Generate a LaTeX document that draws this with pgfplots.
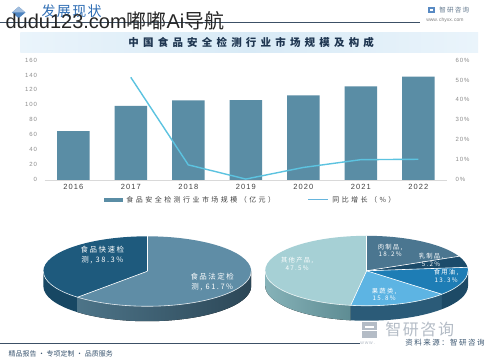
\documentclass[border=0pt]{standalone}
\usepackage{pgfplots}
\pgfplotsset{compat=1.18}
\usepackage{fontspec}
\setmainfont{Liberation Sans}
\newfontfamily\cjk{Noto Sans CJK SC}
\newfontfamily\cjkls[LetterSpace=35]{Noto Sans CJK SC}
\newfontfamily\cjklsb[LetterSpace=40]{Noto Sans CJK SC}
\newfontfamily\cjkpie[LetterSpace=20]{Noto Sans CJK SC}
\newfontfamily\cjkhdr[LetterSpace=10]{Noto Sans CJK SC}
\newfontfamily\numls[LetterSpace=15]{Liberation Sans}
\definecolor{barblue}{HTML}{5A8DA5}
\definecolor{linecyan}{HTML}{5CC3E0}
\definecolor{legline}{HTML}{66B5DD}
\definecolor{ticky}{HTML}{8C8C8C}
\definecolor{txtdark}{HTML}{404040}
\definecolor{hdrblue}{HTML}{2E6DB4}
\definecolor{titlebg}{HTML}{D8EAF6}
\definecolor{titlebgl}{HTML}{EAF4FB}
\definecolor{titletxt}{HTML}{1E3550}
\definecolor{rulec}{HTML}{3C5066}
\definecolor{foottxt}{HTML}{3A5570}
\definecolor{logogray}{HTML}{B4BCC6}
% left pie
\definecolor{kuaiT}{HTML}{1E5A7D}
\definecolor{kuaiS}{HTML}{174763}
\definecolor{fadingT}{HTML}{5F8DA6}
\definecolor{fadingSa}{HTML}{4D7488}
\definecolor{fadingSb}{HTML}{2C4757}
% right pie
\definecolor{qitaT}{HTML}{A6D0D5}
\definecolor{qitaSa}{HTML}{86B2B8}
\definecolor{qitaSb}{HTML}{5E8C93}
\definecolor{rouT}{HTML}{4B7690}
\definecolor{ruT}{HTML}{1B4B6A}
\definecolor{youT}{HTML}{1E7DB5}
\definecolor{youS}{HTML}{1D4A66}
\definecolor{guoT}{HTML}{5DB4E3}
\definecolor{guoS}{HTML}{2B5B78}

\newcommand{\pietop}[7]{%
  \fill[#7] (#1,#2) -- ([shift={(#5:#3pt and #4pt)}]#1,#2) arc[start angle=#5,end angle=#6,x radius=#3pt,y radius=#4pt] -- cycle;}
\newcommand{\pieline}[5]{%
  \draw[white,line width=0.6pt] (#1,#2) -- ([shift={(#5:#3pt and #4pt)}]#1,#2);}
\newcommand{\pieside}[8]{%
  \fill[#8] ([shift={(#5:#3pt and #4pt)}]#1,#2) arc[start angle=#5,end angle=#6,x radius=#3pt,y radius=#4pt] -- ++(0pt,-#7pt) arc[start angle=#6,end angle=#5,x radius=#3pt,y radius=#4pt] -- cycle;}

\begin{document}
\begin{tikzpicture}[x=1pt,y=1pt]
% data for pies (percent)
\def\pKuai{38.3}\def\pFa{61.7}
\def\rRou{18.2}\def\rRu{5.2}\def\rYou{13.3}\def\rGuo{15.8}\def\rQita{47.5}
\pgfmathsetmacro\la{90+3.6*\pKuai}
\pgfmathsetmacro\lb{\la+3.6*\pFa}
\pgfmathsetmacro\rb{90-3.6*\rRou}
\pgfmathsetmacro\rc{\rb-3.6*\rRu}
\pgfmathsetmacro\rd{\rc-3.6*\rYou}
\pgfmathsetmacro\re{\rd-3.6*\rGuo}
\pgfmathsetmacro\rf{\re-3.6*\rQita}
\pgfmathsetmacro\reP{\re+360}
\pgfmathsetmacro\rdP{\rd+360}

\fill[white] (0,0) rectangle (500,360);

% header
\fill[hdrblue!85] (18.3,353.3) -- (25,347.5) -- (18.3,341.7) -- (11.6,347.5) -- cycle;
\fill[hdrblue!45] (18.3,353.3) -- (25,347.5) -- (11.6,347.5) -- cycle;
\node[anchor=west,inner sep=0,text=hdrblue] at (41,348.5) {\fontsize{14}{14}\cjkhdr 发展现状};
\draw[rulec,line width=0.8pt] (0,338) -- (420,338);
\node[anchor=base west,inner sep=0,text=black!85] at (5,331.7) {\fontsize{20}{20}\selectfont dudu123.com{\cjk 嘟嘟}Ai{\cjk 导航}};
% top-right logo
\fill[hdrblue!80] (428,346.5) rectangle (435,353);
\fill[white] (430,349) rectangle (433,351);
\node[anchor=west,inner sep=0,text=foottxt!80] at (439,350) {\fontsize{6.5}{7}\cjkpie 智研咨询};
\node[anchor=west,inner sep=0,text=gray] at (426,340) {\fontsize{5}{6}\selectfont www.\,chyxx.\,com};

% title band
\shade[left color=titlebgl,right color=titlebgl,middle color=titlebg] (20,307) rectangle (478,327);
\node[text=titletxt] at (251,317) {\fontsize{10.5}{11}\cjklsb\bfseries 中国食品安全检测行业市场规模及构成};

% bar + line chart
\begin{axis}[
  at={(44.2pt,180pt)}, anchor=south west,
  scale only axis, width=402.8pt, height=120pt,
  xmin=-0.5, xmax=6.5, ymin=0, ymax=160,
  xtick={0,...,6}, xticklabels={2016,2017,2018,2019,2020,2021,2022},
  ytick={0,20,...,160},
  axis line style={draw=none},
  major tick length=0pt,
  /pgf/number format/assume math mode=true,
  xticklabel style={font=\fontsize{7.5}{8}\numls, text=txtdark, yshift=-1pt},
  yticklabel style={font=\fontsize{6}{7}\numls, text=ticky, xshift=-4pt},
  ybar, bar width=32.5pt,
  clip=false,
]
\addplot[fill=barblue, draw=none] coordinates {(0,65) (1,98.7) (2,106.2) (3,106.5) (4,112.9) (5,124.9) (6,137.8)};
\draw[gray!30] (axis cs:-0.5,0) -- (axis cs:6.5,0);
\end{axis}
\begin{axis}[
  at={(44.2pt,180pt)}, anchor=south west,
  scale only axis, width=402.8pt, height=120pt,
  xmin=-0.5, xmax=6.5, ymin=0, ymax=60,
  axis x line=none, axis y line*=right,
  y axis line style={draw=none},
  major tick length=0pt,
  ytick={0,10,...,60},
  yticklabel={\pgfmathprintnumber{\tick}\%},
  /pgf/number format/assume math mode=true,
  yticklabel style={font=\fontsize{6}{7}\numls, text=ticky, xshift=5pt},
  clip=false,
]
\addplot[linecyan, line width=1.4pt, mark=none] coordinates {(1,51.3) (2,7.5) (3,0.4) (4,6.2) (5,10.1) (6,10.3)};
\end{axis}

% legend
\fill[barblue] (104,158.3) rectangle (123,161.7);
\node[anchor=west,inner sep=0,text=txtdark] at (126,160) {\fontsize{7}{8}\cjkls 食品安全检测行业市场规模（亿元）};
\draw[legline,line width=1pt] (308,160) -- (328,160);
\node[anchor=west,inner sep=0,text=txtdark] at (332,160) {\fontsize{7}{8}\cjkls 同比增长（\%）};

% pies in a hidden axis (1 unit = 1pt)
\begin{axis}[
  at={(0pt,0pt)}, anchor=south west,
  scale only axis, width=500pt, height=360pt,
  xmin=0, xmax=500, ymin=0, ymax=360,
  hide axis, clip=false,
]
% left pie sides
\pieside{147}{88.5}{104}{35}{180}{\la}{15}{kuaiS}
\pieside{147}{88.5}{104}{35}{\la}{360}{15}{left color=fadingSa,right color=fadingSb}
% left pie tops
\pietop{147}{88.5}{104}{35}{90}{\la}{kuaiT}
\pietop{147}{88.5}{104}{35}{\la}{\lb}{fadingT}
\pieline{147}{88.5}{104}{35}{90}
\pieline{147}{88.5}{104}{35}{\la}
\draw[white!85!fadingT,line width=0.6pt] (43,88.5) arc[start angle=180,end angle=360,x radius=104pt,y radius=35pt];
\node[text=white,align=center,inner sep=0,font=\fontsize{7.5}{10}\cjkpie] at (102,105) {食品快速检\\测, 38.3\%};
\node[text=white,align=center,inner sep=0,font=\fontsize{7.5}{10}\cjkpie] at (212,78) {食品法定检\\测, 61.7\%};

% right pie sides
\pieside{366.5}{89}{101.5}{35}{180}{\reP}{15}{left color=qitaSa,right color=qitaSb}
\pieside{366.5}{89}{101.5}{35}{\reP}{\rdP}{15}{guoS}
\pieside{366.5}{89}{101.5}{35}{\rdP}{360}{15}{youS}
% right pie tops
\pietop{366.5}{89}{101.5}{35}{\rb}{90}{rouT}
\pietop{366.5}{89}{101.5}{35}{\rc}{\rb}{ruT}
\pietop{366.5}{89}{101.5}{35}{\rd}{\rc}{youT}
\pietop{366.5}{89}{101.5}{35}{\re}{\rd}{guoT}
\pietop{366.5}{89}{101.5}{35}{\rf}{\re}{qitaT}
\pieline{366.5}{89}{101.5}{35}{90}
\pieline{366.5}{89}{101.5}{35}{\rb}
\pieline{366.5}{89}{101.5}{35}{\rc}
\pieline{366.5}{89}{101.5}{35}{\rd}
\pieline{366.5}{89}{101.5}{35}{\re}
\draw[white!80!qitaT,line width=0.6pt] (265,89) arc[start angle=180,end angle=360,x radius=101.5pt,y radius=35pt];
\node[text=white,align=center,inner sep=0,font=\fontsize{6.3}{7.5}\cjkpie] at (297,96) {其他产品,\\47.5\%};
\node[text=white,align=center,inner sep=0,font=\fontsize{6.3}{7.5}\cjkpie] at (390,109.5) {肉制品,\\18.2\%};
\node[text=white,align=center,inner sep=0,font=\fontsize{6.3}{7.5}\cjkpie] at (431,100) {乳制品,\\5.2\%};
\node[text=white,align=center,inner sep=0,font=\fontsize{6.3}{7.5}\cjkpie] at (446,84) {食用油,\\13.3\%};
\node[text=white,align=center,inner sep=0,font=\fontsize{6.3}{7.5}\cjkpie] at (384,65.5) {果蔬类,\\15.8\%};
\end{axis}

% footer
\draw[rulec,line width=0.8pt] (0,16.5) -- (360,16.5);
\node[anchor=west,inner sep=0,text=foottxt] at (8,6) {\fontsize{7}{8}\cjk 精品报告 · 专项定制 · 品质服务};
\fill[logogray] (362,30) rectangle (377,37.5);
\fill[logogray] (362,22) rectangle (377,28.5);
\fill[white] (365,31.5) rectangle (374,34);
\node[anchor=west,inner sep=0,text=logogray] at (385,30) {\fontsize{16}{16}\cjkhdr 智研咨询};
\node[anchor=west,inner sep=0,text=logogray] at (360,17) {\fontsize{5}{6}\selectfont w\,w\,w\,.};
\node[anchor=west,inner sep=0,text=foottxt] at (405,17) {\fontsize{7.5}{8}\cjkpie 资料来源：智研咨询};
\end{tikzpicture}
\end{document}
